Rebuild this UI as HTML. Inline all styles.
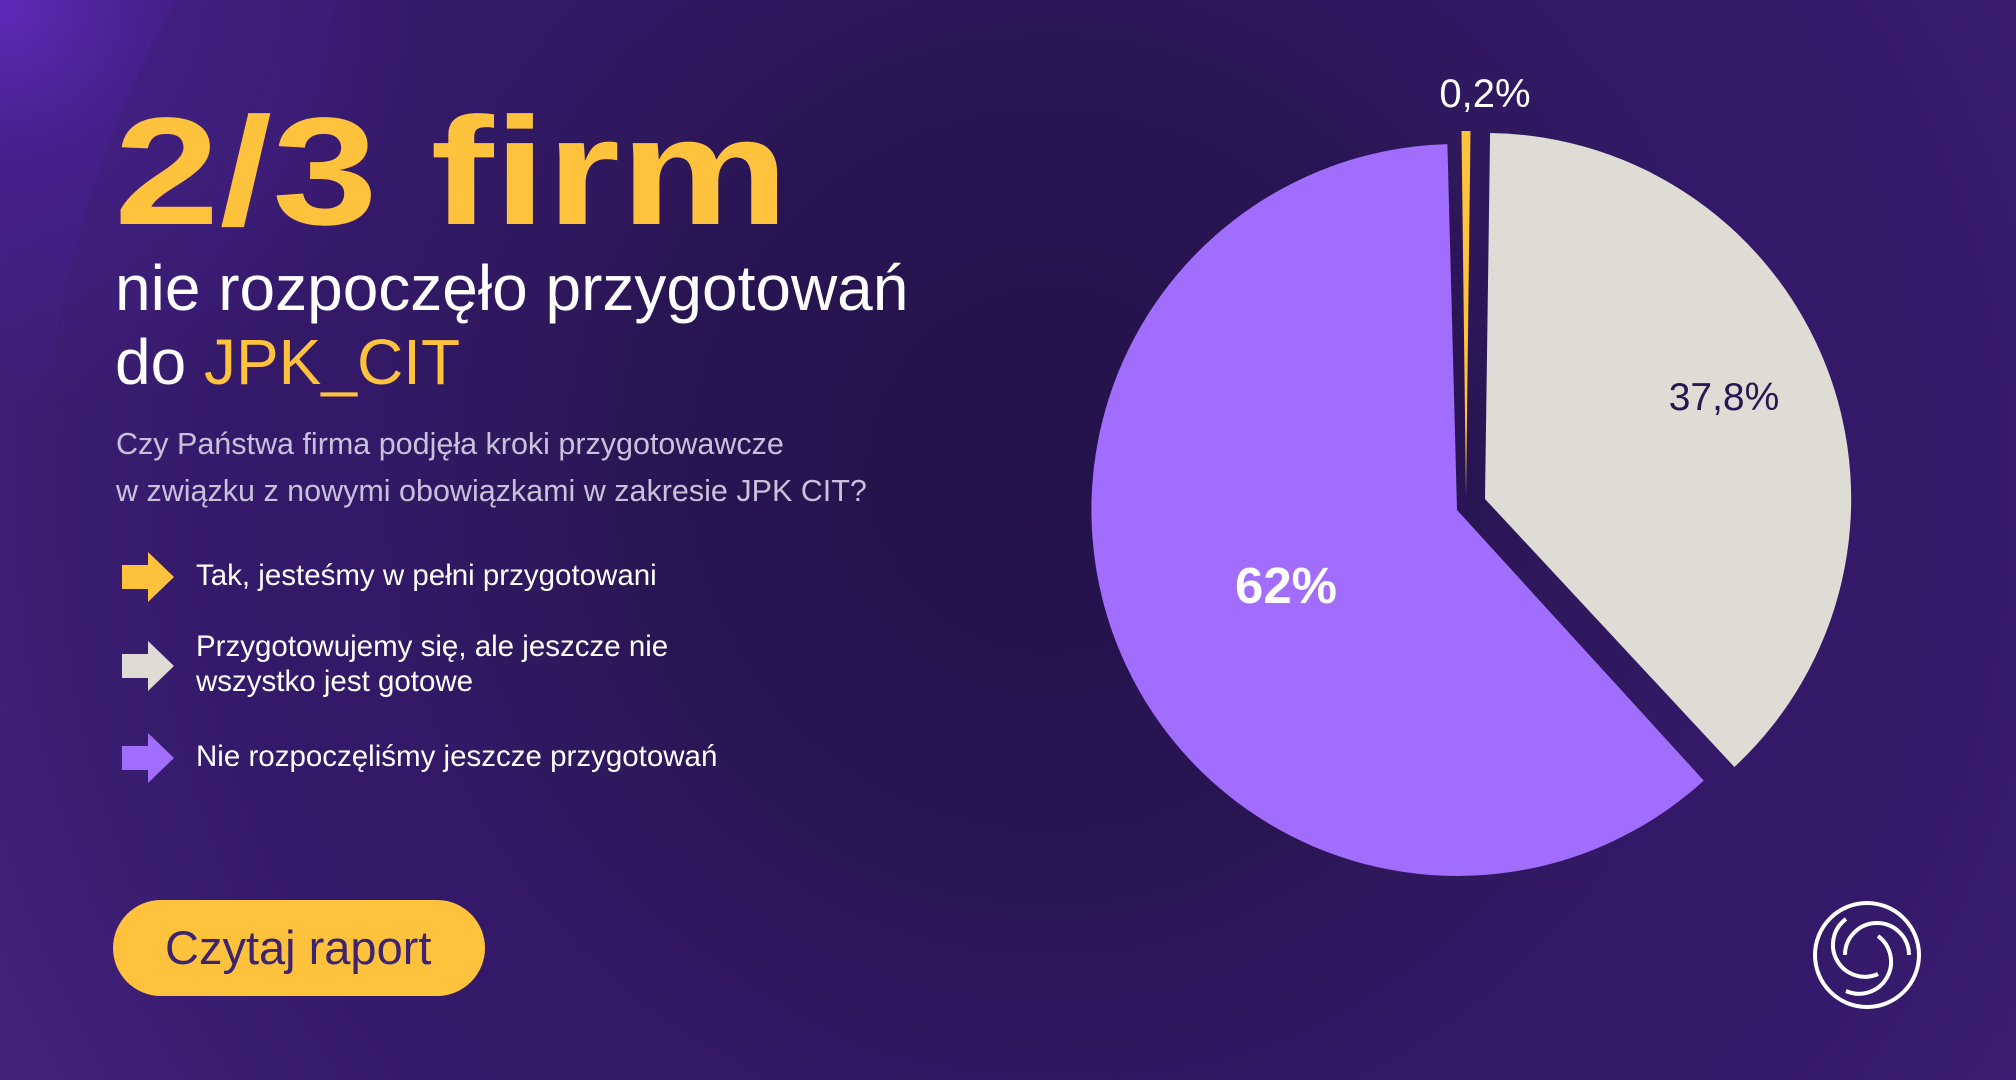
<!DOCTYPE html>
<html style="width:2016px;height:1080px;overflow:hidden"><head><meta charset="utf-8"><style>
html,body{margin:0;padding:0}
body{width:2016px;height:1080px;overflow:hidden;position:relative;font-family:"Liberation Sans",sans-serif;
background:
radial-gradient(circle at 1050px 470px,#24124a 0,#2a1554 420px,#2f185c 520px,rgba(52,28,102,0) 700px),
radial-gradient(circle at 0px 0px,#5e2ab8 0,#45208a 160px,rgba(60,30,110,0) 420px),
radial-gradient(circle at 1100px 500px,#2e1860 0,#35196a 900px,#42227a 1200px);}
.t{position:absolute;white-space:nowrap}
svg{display:block;overflow:hidden}
</style></head><body>
<svg width="2016" height="1080" style="position:absolute;left:0;top:0">
<circle cx="1100" cy="520" r="1000" fill="none" stroke="#3a1f70" stroke-opacity="0.35" stroke-width="120"/>
<path d="M1457,510 L1447.4,144.1 A366,366 0 1,0 1703.8,780.6 Z" fill="#a06dfd"/>
<path d="M1485,499 L1490.1,133.0 A366,366 0 0,1 1734.4,767.0 Z" fill="#dfdcd6"/>
<path d="M1466,497 L1461.5,131 L1470.5,131 Z" fill="#ffc23d"/>
<text x="1485" y="107" fill="#fff" font-size="40" text-anchor="middle" font-family="Liberation Sans">0,2%</text>
<text x="1724" y="410" fill="#2a1750" font-size="39" text-anchor="middle" font-family="Liberation Sans">37,8%</text>
<text x="1286" y="603" fill="#fff" font-size="51" font-weight="bold" text-anchor="middle" font-family="Liberation Sans">62%</text>
<path d="M122,565 h26 v-13 l26,25 l-26,25 v-13 h-26z" fill="#ffc23d"/>
<path d="M122,654 h26 v-13 l26,25 l-26,25 v-13 h-26z" fill="#dfdcd6"/>
<path d="M122,746 h26 v-13 l26,25 l-26,25 v-13 h-26z" fill="#a06dfd"/>
<g fill="none" stroke="#fff" stroke-width="4">
<circle cx="1867" cy="955" r="52"/>
<path d="M1909,955 A32,32 0 0,0 1845,955"/>
<path d="M1846,991 A32,32 0 0,0 1878,936"/>
<path d="M1846,919 A32,32 0 0,0 1878,974"/>
</g>
</svg>
<div class="t" style="left:114px;top:95px;font-size:153px;font-weight:bold;color:#ffc23d;line-height:1;transform:scaleX(1.24);transform-origin:0 0">2/3 firm</div>
<div class="t" style="left:115px;top:256px;font-size:64px;color:#fff;line-height:1">nie rozpoczęło przygotowań</div>
<div class="t" style="left:115px;top:330px;font-size:64px;color:#fff;line-height:1">do <span style="color:#ffc23d">JPK_CIT</span></div>
<div class="t" style="left:116px;top:421px;font-size:30.5px;color:#c9c0dc;line-height:47px">Czy Państwa firma podjęła kroki przygotowawcze<br>w związku z nowymi obowiązkami w zakresie JPK CIT?</div>
<div class="t" style="left:196px;top:559px;font-size:29.5px;color:#fff">Tak, jesteśmy w pełni przygotowani</div>
<div class="t" style="left:196px;top:629px;font-size:29.5px;color:#fff;line-height:35px">Przygotowujemy się, ale jeszcze nie<br>wszystko jest gotowe</div>
<div class="t" style="left:196px;top:740px;font-size:29.5px;color:#fff">Nie rozpoczęliśmy jeszcze przygotowań</div>
<div style="position:absolute;left:113px;top:900px;width:372px;height:96px;border-radius:48px;background:#ffc23d"></div>
<div class="t" style="left:165px;top:924px;font-size:47px;color:#3d2470;line-height:1">Czytaj raport</div>
</body></html>
